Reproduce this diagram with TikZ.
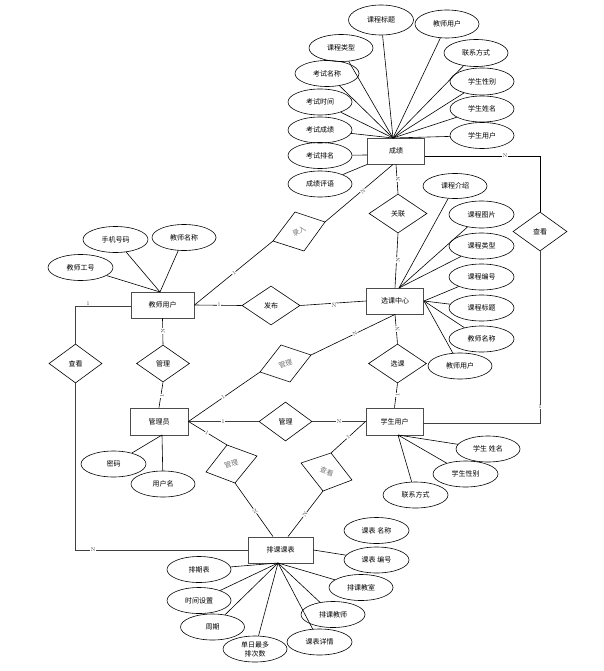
\documentclass[tikz,border=0pt]{standalone}
\usepackage{fontspec}
\newfontfamily\cjk{Noto Sans CJK SC}
\usetikzlibrary{shapes.geometric}
\begin{document}
\begin{tikzpicture}[x=1pt,y=-1pt,
  every node/.style={font=\cjk\fontsize{7}{8}\selectfont},
  ent/.style={draw=black!70, line width=0.9pt, rectangle, minimum width=57pt, minimum height=26pt, inner sep=0pt},
  rel/.style={draw, diamond, minimum width=58pt, minimum height=39pt, inner sep=0pt, line width=0.6pt},
  attr/.style={draw, ellipse, minimum width=64pt, minimum height=26pt, inner sep=0pt, line width=0.6pt},
  card/.style={font=\fontsize{5.5}{5.5}\selectfont, fill=white, inner sep=0.3pt, text=black!70},
  rtext/.style={font=\cjk\fontsize{7}{8}\selectfont, text=black!55, inner sep=0.5pt},
  link/.style={line width=0.6pt},
  thick link/.style={line width=0.9pt, draw=black!75},
  rdia/.style={line width=0.6pt},
]
\useasboundingbox (0,0) rectangle (604,671);

% ---------- entities ----------
\node[ent] (cj) at (396,151) {成绩};
\node[ent, minimum width=63pt] (js) at (162.5,305) {教师用户};
\node[ent] (xk) at (395,301) {选课中心};
\node[ent, minimum width=58pt, minimum height=27pt] (gly) at (159,421.5) {管理员};
\node[ent, minimum height=27pt] (xs) at (394.5,421.5) {学生用户};
\node[ent, minimum width=65pt] (pk) at (280.5,550) {排课课表};

% ---------- relationships (upright diamonds) ----------
\node[rel] (gl) at (398,213.5) {关联};
\node[rel] (fb) at (271,305.5) {发布};
\node[rel] (xkr) at (397.5,363.5) {选课};
\node[rel, minimum width=53pt, minimum height=37pt] (gl1) at (163,363.5) {管理};
\node[rel, minimum width=53pt] (ck1) at (75.5,363.5) {查看};
\node[rel, minimum width=53pt] (gl2) at (285.5,421.5) {管理};
\node[rel, minimum width=54pt] (ck2) at (540,231.5) {查看};

% ---------- relationships (tilted diamonds) ----------
\coordinate (lrL) at (273,241); \coordinate (lrT) at (295,212);
\coordinate (lrR) at (325,222); \coordinate (lrB) at (304,251);
\draw[rdia] (lrL) -- (lrT) -- (lrR) -- (lrB) -- cycle;
\node[rtext, rotate=25] (lr) at (299,231.5) {录入};

\coordinate (gmaL) at (260,372); \coordinate (gmaT) at (281,345);
\coordinate (gmaR) at (311,355); \coordinate (gmaB) at (290,382);
\draw[rdia] (gmaL) -- (gmaT) -- (gmaR) -- (gmaB) -- cycle;
\node[rtext, rotate=20] (gma) at (285.5,363.5) {管理};

\coordinate (gmbT) at (227,445); \coordinate (gmbR) at (257,456);
\coordinate (gmbB) at (235,483); \coordinate (gmbL) at (206,472);
\draw[rdia] (gmbT) -- (gmbR) -- (gmbB) -- (gmbL) -- cycle;
\node[rtext, rotate=18] (gmb) at (231.25,464) {管理};

\coordinate (ckcT) at (331,453); \coordinate (ckcR) at (352,480);
\coordinate (ckcB) at (323,491); \coordinate (ckcL) at (301,463);
\draw[rdia] (ckcT) -- (ckcR) -- (ckcB) -- (ckcL) -- cycle;
\node[rtext, rotate=-20] (ckc) at (326.75,471.75) {查看};

% ---------- relationship connectors ----------
\draw[link] (cj.south) -- (gl.north);
\draw[link] (gl.south) -- (xk.north);
\draw[link] (js.east) -- (fb.west);
\draw[link] (fb.east) -- (xk.west);
\draw[link] (xk.south) -- (xkr.north);
\draw[link] (xkr.south) -- (xs.north);
\draw[link] (js.south) -- (gl1.north);
\draw[link] (gl1.south) -- (gly.north);
\draw[thick link] (gly.east) -- (gl2.west);
\draw[thick link] (gl2.east) -- (xs.west);
\draw[thick link] ([yshift=-1pt]js.west) -| (ck1.north);
\draw[thick link] (ck1.south) |- (pk.west);
\draw[link] ([yshift=-5pt]cj.east) -| (ck2.north);
\draw[thick link] (ck2.south) |- ([yshift=-1.5pt]xs.east);
\draw[link] (js.east) -- (lrL);
\draw[link] (lrR) -- ([xshift=-3pt]cj.south);
\draw[link] (gly.east) -- (gmaL);
\draw[link] (gmaR) -- (xk.south);
\draw[link] (gly.east) -- (gmbT);
\draw[link] (gmbB) -- ([xshift=-7.5pt]pk.north);
\draw[link] (xs.west) -- (ckcT);
\draw[link] (ckcB) -- ([xshift=7.5pt]pk.north);

% ---------- cardinalities ----------
\node[card] (k1) at (505,156) {N};
\node[card] (k2) at (540,407) {1};
\node[card, rotate=90] (k3) at (398,179) {N};
\node[card, rotate=90] (k4) at (398,260) {N};
\node[card, rotate=39] (k5) at (234,273) {1};
\node[card, rotate=40] (k6) at (363,191) {N};
\node[card] (k7) at (219,305) {1};
\node[card] (k8) at (334,305.5) {N};
\node[card] (k9) at (88,304) {1};
\node[card] (k10) at (93,550) {N};
\node[card, rotate=90] (k11) at (163,331) {N};
\node[card, rotate=90] (k12) at (162,396) {1};
\node[card, rotate=90] (k13) at (397.5,329) {N};
\node[card, rotate=90] (k14) at (397.5,395) {1};
\node[card, rotate=34] (k15) at (223,397) {1};
\node[card, rotate=26] (k16) at (355,333.5) {N};
\node[card] (k17) at (223,421.5) {1};
\node[card] (k18) at (339,421.5) {N};
\node[card, rotate=-32] (k19) at (207,432.7) {1};
\node[card, rotate=-55] (k20) at (255,511) {N};
\node[card, rotate=43] (k21) at (348,437) {1};
\node[card, rotate=53] (k22) at (305,514.5) {N};

% ---------- attributes of 成绩 ----------
\coordinate (c1) at (393,138);
\node[attr, minimum width=65pt, minimum height=30pt] (a1) at (381,20) {课程标题};
\node[attr, minimum height=28pt] (a2) at (447,24) {教师用户};
\node[attr, minimum height=27pt] (a3) at (341,48) {课程类型};
\node[attr, minimum height=27pt] (a4) at (476,53) {联系方式};
\node[attr] (a5) at (327,73.5) {考试名称};
\node[attr, minimum height=27pt] (a6) at (482,81.5) {学生性别};
\node[attr] (a7) at (320,102) {考试时间};
\node[attr] (a8) at (482,109) {学生姓名};
\node[attr] (a9) at (320,130) {考试成绩};
\node[attr] (a10) at (482,135.5) {学生用户};
\node[attr] (a11) at (320,155.5) {考试排名};
\node[attr] (a12) at (320,184) {成绩评语};
\foreach \n in {a1,a2,a3,a4,a5,a6,a7,a8,a9,a10} \draw[link] (c1) -- (\n);
\draw[link] (a11) -- ([yshift=-4pt]cj.west);
\draw[link] (a12) -- (cj.south west);

% ---------- attributes of 选课中心 ----------
\coordinate (t2) at (399,288);
\coordinate (r2) at (424,301);
\node[attr, minimum height=25pt] (b1) at (455,186) {课程介绍};
\node[attr, minimum width=65pt, minimum height=27pt] (b2) at (481.5,214.5) {课程图片};
\node[attr, minimum width=65pt] (b3) at (481.5,246) {课程类型};
\node[attr, minimum width=65pt] (b4) at (481.5,277) {课程编号};
\node[attr, minimum width=65pt] (b5) at (481.5,308) {课程标题};
\node[attr, minimum width=65pt] (b6) at (481.5,339) {教师名称};
\node[attr] (b7) at (460,366) {教师用户};
\foreach \n in {b1,b2,b3} \draw[link] (t2) -- (\n);
\foreach \n in {b4,b5,b6,b7} \draw[link] (r2) -- (\n);

% ---------- attributes of 教师用户 ----------
\coordinate (t3) at (160,292);
\node[attr, minimum width=65pt] (d1) at (115.5,239.5) {手机号码};
\node[attr] (d2) at (184,237.5) {教师名称};
\node[attr, minimum width=65pt] (d3) at (80.5,267.5) {教师工号};
\foreach \n in {d1,d2,d3} \draw[link] (t3) -- (\n);

% ---------- attributes of 管理员 ----------
\coordinate (t4) at (162,435);
\node[attr, minimum width=65pt] (e1) at (113.5,464) {密码};
\node[attr] (e2) at (163,484) {用户名};
\foreach \n in {e1,e2} \draw[link] (t4) -- (\n);

% ---------- attributes of 学生用户 ----------
\coordinate (t5) at (398,435);
\node[attr] (f1) at (488,449) {学生 姓名};
\node[attr, minimum width=65pt] (f2) at (465.5,474) {学生性别};
\node[attr, minimum width=65pt] (f3) at (415.5,495) {联系方式};
\foreach \n in {f1,f2,f3} \draw[link] (t5) -- (\n);

% ---------- attributes of 排课课表 ----------
\coordinate (t6) at (278,563);
\node[attr, minimum width=65pt] (g1) at (376.5,530.5) {课表 名称};
\node[attr, minimum width=65pt] (g2) at (376.5,560) {课表 编号};
\node[attr] (g3) at (361,587.5) {排课教室};
\node[attr] (g4) at (333,614.5) {排课教师};
\node[attr, minimum width=65pt] (g5) at (319.5,642) {课表详情};
\node[attr, align=center, font=\cjk\fontsize{7}{9}\selectfont] (g6) at (255,649) {单日最多\\排次数};
\node[attr] (g7) at (212.5,627) {周期};
\node[attr] (g8) at (199,600.5) {时间设置};
\node[attr] (g9) at (199,569.5) {排期表};
\draw[link] (pk.east) -- (g2);
\foreach \n in {g3,g4,g5,g6,g7,g8,g9} \draw[link] (t6) -- (\n);
\end{tikzpicture}
\end{document}
